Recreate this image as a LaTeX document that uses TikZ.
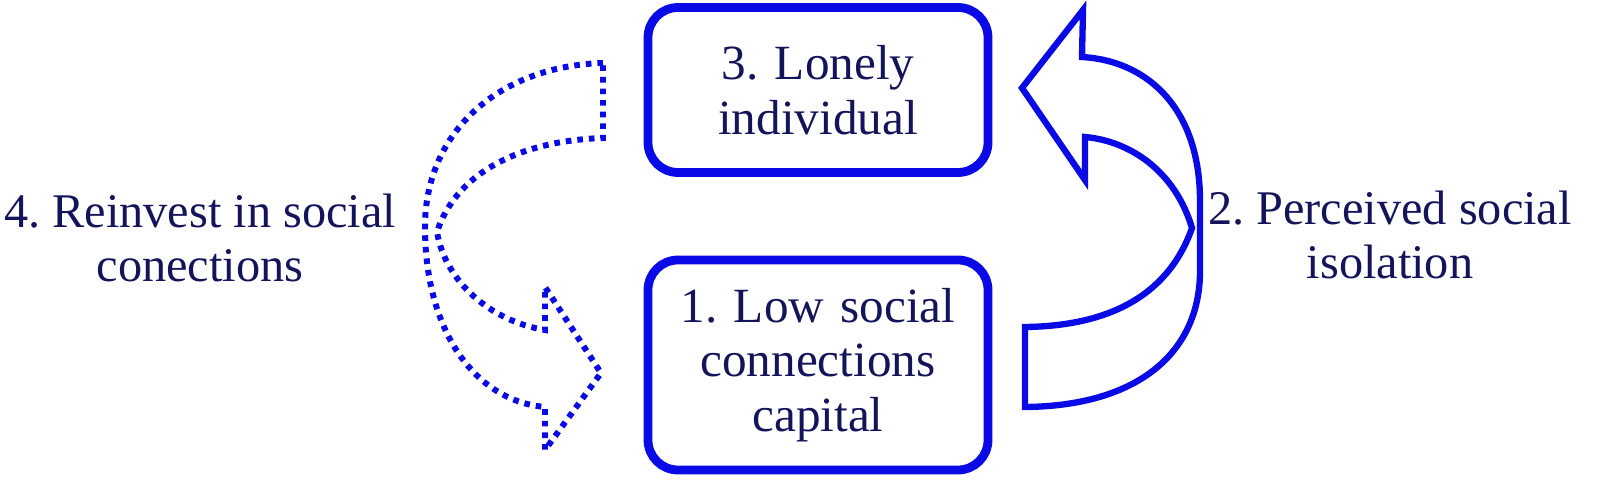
\documentclass[tikz,border=0pt]{standalone}
\usepackage{fontspec}
\setmainfont{Liberation Serif}
\usetikzlibrary{positioning}
\definecolor{linkblue}{RGB}{10,10,230}
\definecolor{inkblue}{RGB}{20,20,90}
\frenchspacing

\begin{document}
\begin{tikzpicture}[
    stage/.style={rectangle, rounded corners=0.6cm, draw=linkblue, line width=5pt,
                  minimum width=6.8cm, text width=6.4cm, align=center,
                  font=\rmfamily\fontsize{28}{31}\selectfont, text=inkblue},
    label/.style={align=center, font=\rmfamily\fontsize{27.5}{31}\selectfont, text=inkblue},
    flowarrow/.style={draw=linkblue, line width=3.6pt, line join=miter},
    backarrow/.style={draw=linkblue, line width=3.4pt, dash pattern=on 3.2pt off 3.4pt}
]
\useasboundingbox (0,0) rectangle (31.94,9.62);

% Stages
\node[stage, minimum height=3.3cm] (lonely) at (16.36, 7.82) {3. Lonely\\individual};
\node[stage, minimum height=4.2cm] (lowcap) at (16.36, 2.32) {1. Low social\\connections\\capital};

% Labels
\node[label] (isolation) at (27.8, 4.92) {2. Perceived social\\isolation};
\node[label] (reinvest) at (4.0, 4.86) {4. Reinvest in social\\conections};

% Curved arrow up (right)
\draw[flowarrow] (20.5,1.48) .. controls (22.8,1.5) and (24.0,2.6) .. (24.0,4.2)
    -- (24.0,5.6) .. controls (24.0,7.4) and (23.0,8.4) .. (21.64,8.48)
    -- (21.66,9.42) -- (20.44,7.86) -- (21.7,6.02) -- (21.7,6.88)
    .. controls (22.6,6.8) and (23.5,6.2) .. (23.84,5.06)
    .. controls (23.4,3.8) and (22.3,3.1) .. (20.5,3.08) -- cycle;

% Curved arrow down (left, dotted)
\draw[backarrow] (12.06,8.36) .. controls (10.0,8.3) and (8.5,7.0) .. (8.5,5.08)
    .. controls (8.5,3.0) and (9.5,1.6) .. (10.9,1.48)
    -- (10.9,0.62) -- (12.02,2.16) -- (10.9,3.88) -- (10.9,3.02)
    .. controls (9.8,3.2) and (8.9,4.0) .. (8.74,4.98)
    .. controls (9.1,6.1) and (10.3,6.8) .. (12.06,6.86) -- cycle;

\end{tikzpicture}
\end{document}
